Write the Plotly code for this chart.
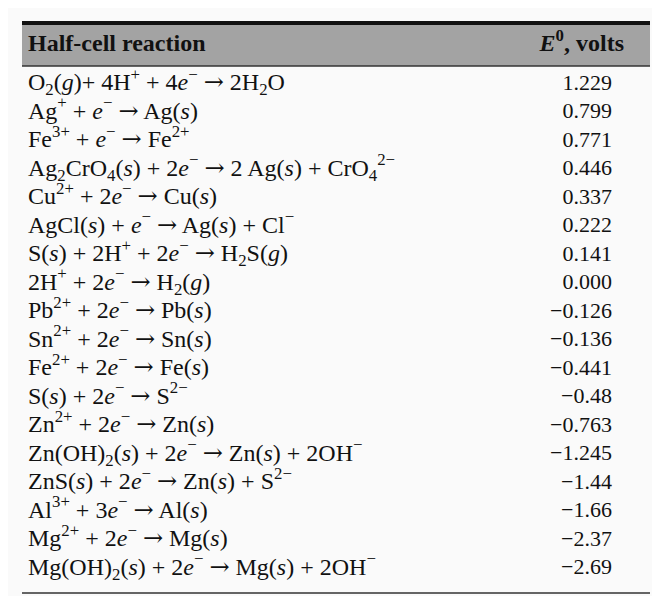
import plotly.graph_objects as go

A = '<span style="font-family:DejaVu Serif">→</span>'

# table content
reactions = [
    "O<sub>2</sub>(<i>g</i>)+ 4H<sup>+</sup> + 4<i>e</i><sup>−</sup> " + A + " 2H<sub>2</sub>O",
    "Ag<sup>+</sup> + <i>e</i><sup>−</sup> " + A + " Ag(<i>s</i>)",
    "Fe<sup>3+</sup> + <i>e</i><sup>−</sup> " + A + " Fe<sup>2+</sup>",
    "Ag<sub>2</sub>CrO<sub>4</sub>(<i>s</i>) + 2<i>e</i><sup>−</sup> " + A + " 2 Ag(<i>s</i>) + CrO<sub>4</sub><sup>2−</sup>",
    "Cu<sup>2+</sup> + 2<i>e</i><sup>−</sup> " + A + " Cu(<i>s</i>)",
    "AgCl(<i>s</i>) + <i>e</i><sup>−</sup> " + A + " Ag(<i>s</i>) + Cl<sup>−</sup>",
    "S(<i>s</i>) + 2H<sup>+</sup> + 2<i>e</i><sup>−</sup> " + A + " H<sub>2</sub>S(<i>g</i>)",
    "2H<sup>+</sup> + 2<i>e</i><sup>−</sup> " + A + " H<sub>2</sub>(<i>g</i>)",
    "Pb<sup>2+</sup> + 2<i>e</i><sup>−</sup> " + A + " Pb(<i>s</i>)",
    "Sn<sup>2+</sup> + 2<i>e</i><sup>−</sup> " + A + " Sn(<i>s</i>)",
    "Fe<sup>2+</sup> + 2<i>e</i><sup>−</sup> " + A + " Fe(<i>s</i>)",
    "S(<i>s</i>) + 2<i>e</i><sup>−</sup> " + A + " S<sup>2−</sup>",
    "Zn<sup>2+</sup> + 2<i>e</i><sup>−</sup> " + A + " Zn(<i>s</i>)",
    "Zn(OH)<sub>2</sub>(<i>s</i>) + 2<i>e</i><sup>−</sup> " + A + " Zn(<i>s</i>) + 2OH<sup>−</sup>",
    "ZnS(<i>s</i>) + 2<i>e</i><sup>−</sup> " + A + " Zn(<i>s</i>) + S<sup>2−</sup>",
    "Al<sup>3+</sup> + 3<i>e</i><sup>−</sup> " + A + " Al(<i>s</i>)",
    "Mg<sup>2+</sup> + 2<i>e</i><sup>−</sup> " + A + " Mg(<i>s</i>)",
    "Mg(OH)<sub>2</sub>(<i>s</i>) + 2<i>e</i><sup>−</sup> " + A + " Mg(<i>s</i>) + 2OH<sup>−</sup>",
]
potentials = ["1.229", "0.799", "0.771", "0.446", "0.337", "0.222", "0.141", "0.000",
              "−0.126", "−0.136", "−0.441", "−0.48", "−0.763", "−1.245", "−1.44",
              "−1.66", "−2.37", "−2.69"]
headers = ["<b>Half-cell reaction</b>", "<b><i>E</i><sup>0</sup>, volts</b>"]

FONT = "Liberation Serif"
row_y = [76 + i * 28.5 for i in range(len(reactions))]

fig = go.Figure()
fig.add_trace(go.Scatter(x=[20] * len(reactions), y=row_y, text=reactions, mode="text",
                         textposition="middle right",
                         textfont=dict(family=FONT, size=24, color="#111")))
fig.add_trace(go.Scatter(x=[604] * len(potentials), y=row_y, text=potentials, mode="text",
                         textposition="middle left",
                         textfont=dict(family=FONT, size=22, color="#111")))
fig.add_trace(go.Scatter(x=[20, 616], y=[37, 37], text=headers, mode="text",
                         textposition=["middle right", "middle left"],
                         textfont=dict(family=FONT, size=24, color="#111")))

# header band and rules
fig.add_shape(type="rect", x0=14, x1=642, y0=14, y1=58, fillcolor="#a3a3a3",
              line=dict(width=0), layer="below")
fig.add_shape(type="line", x0=14, x1=642, y0=15, y1=15, line=dict(color="#111", width=4))
fig.add_shape(type="line", x0=14, x1=642, y0=58, y1=58, line=dict(color="#333", width=1.5))
fig.add_shape(type="line", x0=14, x1=642, y0=585, y1=585, line=dict(color="#333", width=1.5))

fig.update_layout(
    width=660, height=596, margin=dict(l=0, r=0, t=0, b=0),
    paper_bgcolor="#fafafa", plot_bgcolor="#fafafa", showlegend=False,
    xaxis=dict(range=[0, 660], visible=False, fixedrange=True),
    yaxis=dict(range=[596, 0], visible=False, fixedrange=True),
)
fig.write_html("out.html")
